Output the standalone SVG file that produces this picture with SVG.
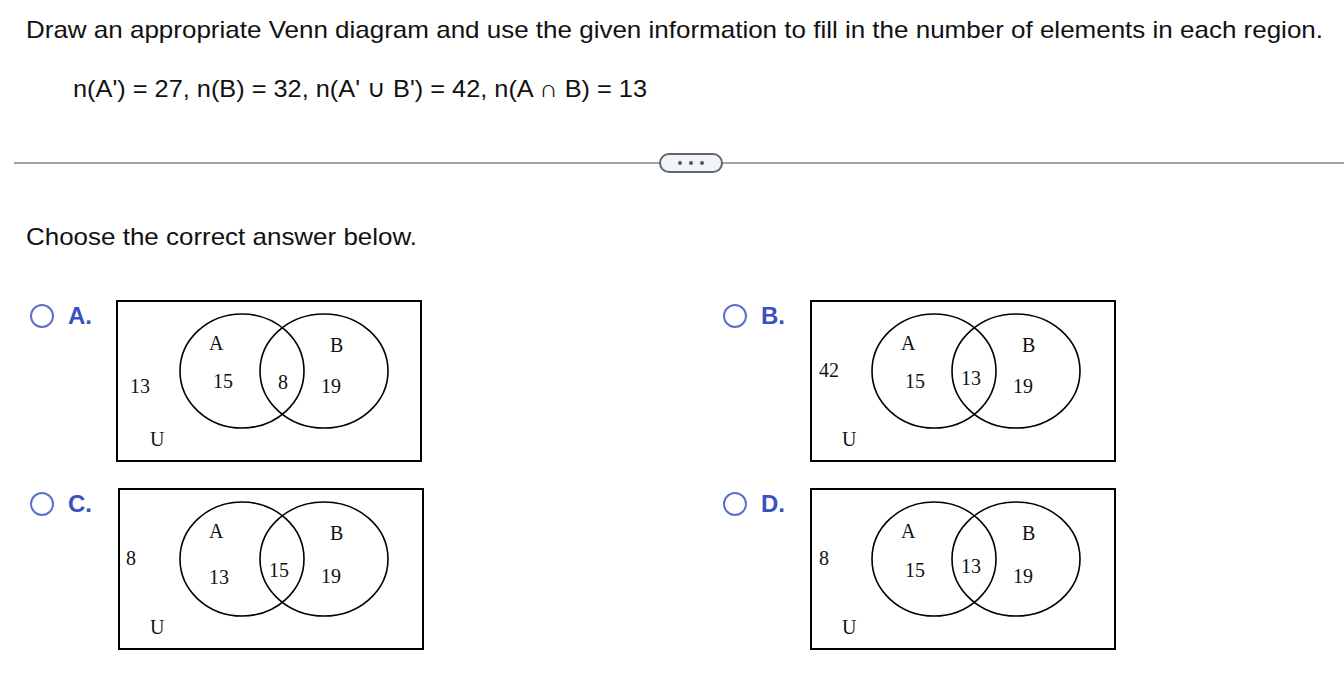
<svg xmlns="http://www.w3.org/2000/svg" width="1344" height="686" viewBox="0 0 1344 686">
<style>
.q{font-family:"Liberation Sans",Arial,sans-serif;font-size:24px;fill:#111}
.lbl{font-family:"Liberation Sans",Arial,sans-serif;font-size:24px;font-weight:bold;fill:#3a4fc0}
.v{font-family:"Liberation Serif","Times New Roman",serif;font-size:20px;fill:#111}
.box{fill:none;stroke:#000;stroke-width:2}
.c{fill:none;stroke:#000;stroke-width:1.6}
.radio{fill:#fff;stroke:#5b6fd0;stroke-width:2}
</style>
<rect width="1344" height="686" fill="#fff"/>
<text class="q" x="26" y="38" textLength="1297" lengthAdjust="spacingAndGlyphs">Draw an appropriate Venn diagram and use the given information to fill in the number of elements in each region.</text>
<text class="q" x="73" y="97" textLength="574" lengthAdjust="spacingAndGlyphs">n(A') = 27, n(B) = 32, n(A' ∪ B') = 42, n(A ∩ B) = 13</text>
<g id="separator">
<line x1="14" y1="163" x2="660" y2="163" stroke="#7a8591" stroke-width="1.5"/>
<line x1="722" y1="163" x2="1344" y2="163" stroke="#7a8591" stroke-width="1.5"/>
<rect x="660" y="154" width="62" height="18" rx="9" fill="#f3f4f6" stroke="#5d6773" stroke-width="2"/>
<circle cx="680" cy="163" r="2" fill="#555"/><circle cx="691" cy="163" r="2" fill="#555"/><circle cx="702" cy="163" r="2" fill="#555"/>
</g>
<text class="q" x="26" y="245" textLength="391" lengthAdjust="spacingAndGlyphs">Choose the correct answer below.</text>

<g id="optA">
<circle class="radio" cx="42" cy="316" r="11"/>
<text class="lbl" x="68" y="324">A.</text>
<rect class="box" x="117" y="301" width="304" height="160"/>
<ellipse class="c" cx="242" cy="371" rx="62" ry="57"/>
<ellipse class="c" cx="324" cy="371" rx="64" ry="57"/>
<text class="v" x="209" y="350">A</text><text class="v" x="330" y="352">B</text>
<text class="v" x="130" y="393">13</text><text class="v" x="213" y="388">15</text>
<text class="v" x="278" y="389">8</text><text class="v" x="321" y="393">19</text>
<text class="v" x="150" y="446">U</text>
</g>
<g id="optB">
<circle class="radio" cx="735" cy="316" r="11"/>
<text class="lbl" x="761" y="324">B.</text>
<rect class="box" x="811" y="301" width="304" height="160"/>
<ellipse class="c" cx="934" cy="371" rx="62" ry="57"/>
<ellipse class="c" cx="1016" cy="371" rx="64" ry="57"/>
<text class="v" x="901" y="350">A</text><text class="v" x="1022" y="352">B</text>
<text class="v" x="819" y="377">42</text><text class="v" x="905" y="388">15</text>
<text class="v" x="961" y="385">13</text><text class="v" x="1013" y="393">19</text>
<text class="v" x="842" y="446">U</text>
</g>
<g id="optC">
<circle class="radio" cx="42" cy="504" r="11"/>
<text class="lbl" x="68" y="512">C.</text>
<rect class="box" x="119" y="489" width="304" height="160"/>
<ellipse class="c" cx="242" cy="559" rx="62" ry="57"/>
<ellipse class="c" cx="324" cy="559" rx="64" ry="57"/>
<text class="v" x="209" y="538">A</text><text class="v" x="330" y="540">B</text>
<text class="v" x="126" y="565">8</text><text class="v" x="209" y="584">13</text>
<text class="v" x="269" y="577">15</text><text class="v" x="321" y="583">19</text>
<text class="v" x="150" y="634">U</text>
</g>
<g id="optD">
<circle class="radio" cx="735" cy="504" r="11"/>
<text class="lbl" x="761" y="512">D.</text>
<rect class="box" x="811" y="489" width="304" height="160"/>
<ellipse class="c" cx="934" cy="559" rx="62" ry="57"/>
<ellipse class="c" cx="1016" cy="559" rx="64" ry="57"/>
<text class="v" x="901" y="538">A</text><text class="v" x="1022" y="540">B</text>
<text class="v" x="819" y="565">8</text><text class="v" x="905" y="577">15</text>
<text class="v" x="961" y="573">13</text><text class="v" x="1013" y="583">19</text>
<text class="v" x="842" y="634">U</text>
</g>
<g id="connectors"/>
</svg>
